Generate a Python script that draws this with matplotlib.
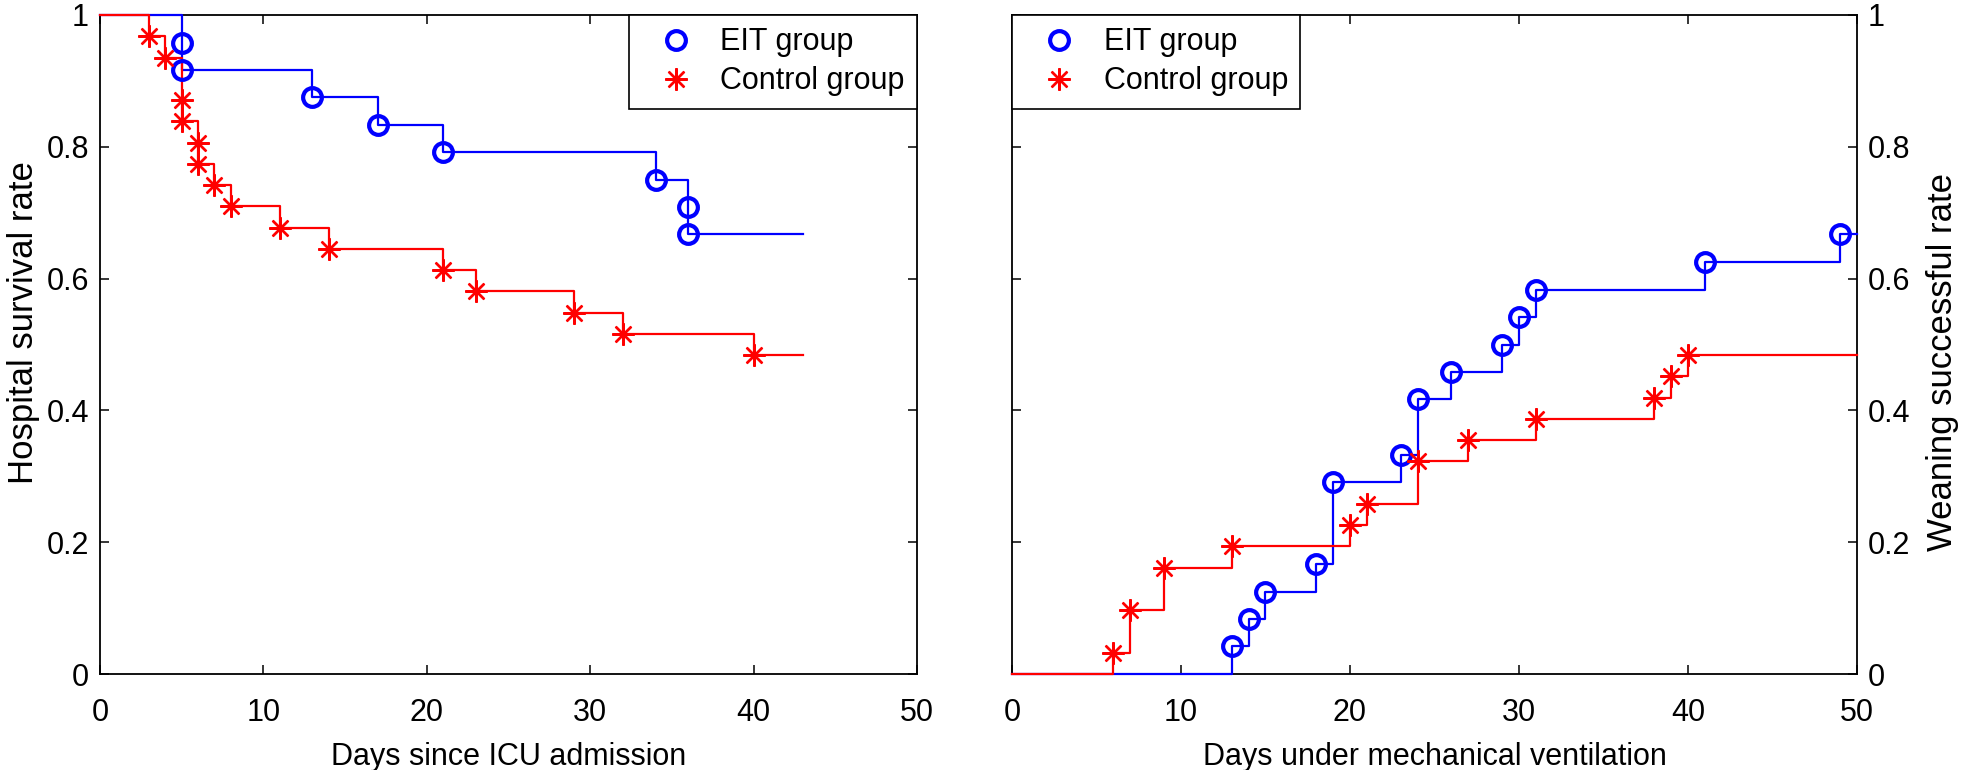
import matplotlib
matplotlib.use("Agg")
import matplotlib.pyplot as plt
from matplotlib.lines import Line2D

plt.rcParams['font.family'] = ['Liberation Sans', 'DejaVu Sans']

# ---------------- data ----------------
# Left panel: hospital survival (Kaplan-Meier)
surv_eit_days = [5, 5, 13, 17, 21, 34, 36, 36]
surv_eit_rate = [0.958, 0.917, 0.875, 0.833, 0.792, 0.750, 0.708, 0.667]
surv_ctrl_days = [3, 4, 5, 5, 6, 6, 7, 8, 11, 14, 21, 23, 29, 32, 40]
surv_ctrl_rate = [0.968, 0.935, 0.871, 0.839, 0.806, 0.774, 0.742, 0.710,
                  0.677, 0.645, 0.613, 0.581, 0.548, 0.516, 0.484]
surv_end_day = 43

# Right panel: weaning success (cumulative)
wean_eit_days = [13, 14, 15, 18, 19, 23, 24, 26, 29, 30, 31, 41, 49]
wean_eit_rate = [0.042, 0.083, 0.125, 0.167, 0.292, 0.333, 0.417, 0.458,
                 0.500, 0.542, 0.583, 0.625, 0.667]
wean_ctrl_days = [6, 7, 9, 13, 20, 21, 24, 27, 31, 38, 39, 40]
wean_ctrl_rate = [0.032, 0.097, 0.161, 0.194, 0.226, 0.258, 0.323, 0.355,
                  0.387, 0.419, 0.452, 0.484]
wean_end_day = 50

x_ticks = [0, 10, 20, 30, 40, 50]
x_ticklabels = ['0', '10', '20', '30', '40', '50']
y_ticks = [0, 0.2, 0.4, 0.6, 0.8, 1.0]
y_ticklabels = ['0', '0.2', '0.4', '0.6', '0.8', '1']

series_names = ['EIT group', 'Control group']
# --------------------------------------

W, H = 1961, 770
fig = plt.figure(figsize=(W / 100, H / 100), dpi=100)
axL = fig.add_axes([100 / W, 96 / H, 817 / W, 659 / H])
axR = fig.add_axes([1012 / W, 96 / H, 845 / W, 659 / H])

FS = 22
FS_Y = 25
BLUE = (0, 0, 1)
RED = (1, 0, 0)
circ = dict(marker='o', ms=13.5, mew=3.0, mfc='none', mec=BLUE, ls='none')
star = dict(marker=(8, 2, 0), ms=16, mew=1.7, mec=RED, ls='none')


def km(ax, days, rate, start, end, color):
    xs = [0] + list(days) + [end]
    ys = [start] + list(rate) + [rate[-1]]
    ax.step(xs, ys, where='post', color=color, lw=1.6, clip_on=False,
            zorder=3)


# left panel
km(axL, surv_eit_days, surv_eit_rate, 1.0, surv_end_day, BLUE)
axL.plot(surv_eit_days, surv_eit_rate, zorder=4, **circ)
km(axL, surv_ctrl_days, surv_ctrl_rate, 1.0, surv_end_day, RED)
axL.plot(surv_ctrl_days, surv_ctrl_rate, zorder=4, **star)

# right panel
km(axR, wean_eit_days, wean_eit_rate, 0.0, wean_end_day, BLUE)
axR.plot(wean_eit_days, wean_eit_rate, zorder=4, **circ)
km(axR, wean_ctrl_days, wean_ctrl_rate, 0.0, wean_end_day, RED)
axR.plot(wean_ctrl_days, wean_ctrl_rate, zorder=4, **star)

for ax in (axL, axR):
    ax.set_xlim(0, 50)
    ax.set_ylim(0, 1)
    ax.set_xticks(x_ticks)
    ax.set_xticklabels(x_ticklabels)
    ax.set_yticks(y_ticks)
    ax.set_yticklabels(y_ticklabels)
    ax.tick_params(direction='in', length=6.5, width=1.1, top=True, right=True,
                   labelsize=FS, colors='k')
    ax.tick_params(axis='x', pad=17)
    ax.tick_params(axis='y', pad=8)
    for s in ax.spines.values():
        s.set_linewidth(1.3)
        s.set_color('k')

axR.tick_params(axis='y', labelleft=False, labelright=True)
axR.yaxis.set_label_position('right')

axL.set_xlabel('Days since ICU admission', fontsize=FS, labelpad=10)
axR.set_xlabel('Days under mechanical ventilation', fontsize=FS, labelpad=10)
axL.set_ylabel('Hospital survival rate', fontsize=FS_Y)
axR.set_ylabel('Weaning successful rate', fontsize=FS_Y)
axL.yaxis.set_label_coords(-0.0734, 0.533)
axR.yaxis.set_label_coords(1.0817, 0.473)

handles = [Line2D([], [], **circ), Line2D([], [], **star)]
legkw = dict(fontsize=FS, frameon=True, fancybox=False, edgecolor='k',
             framealpha=1, borderaxespad=0, handlelength=2.3,
             handletextpad=0.3, labelspacing=0.3, borderpad=0.4)
lgL = axL.legend(handles, series_names, loc='upper right', **legkw)
lgR = axR.legend(handles, series_names, loc='upper left', **legkw)
for lg in (lgL, lgR):
    lg.get_frame().set_linewidth(1.2)
    lg.set_zorder(5)

fig.savefig('out.png', dpi=100)
